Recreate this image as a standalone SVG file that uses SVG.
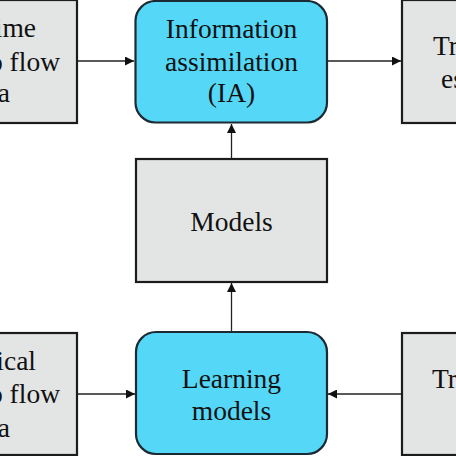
<svg xmlns="http://www.w3.org/2000/svg" width="456" height="456" viewBox="0 0 456 456">
<defs>
<style>
.gray{fill:#e3e5e4;stroke:#1c1c1c;stroke-width:2.2}
.cyan{fill:#55d8f8;stroke:#1c2a33;stroke-width:2.2}
.t{font-family:"Liberation Serif","Times New Roman",serif;font-size:27.5px;fill:#111}
.c{text-anchor:middle}
.e{text-anchor:end}
.conn{stroke:#222;stroke-width:1.3;fill:none}
</style>
<marker id="ah" viewBox="0 0 10 10" refX="10" refY="5" markerWidth="9" markerHeight="9" markerUnits="userSpaceOnUse" orient="auto">
<path d="M0,0 L10,5 L0,10 z" fill="#111"/>
</marker>
</defs>
<rect width="456" height="456" fill="#ffffff"/>
<g id="realtime">
<rect class="gray" x="-120" y="0" width="197" height="123"/>
<text class="t e" x="36" y="37">Real-time</text>
<text class="t e" x="60" y="71">hydro flow</text>
<text class="t e" x="10" y="102">data</text>
</g>
<g id="ia">
<rect class="cyan" x="135.5" y="1" width="191.5" height="121.5" rx="20" ry="20"/>
<text class="t c" x="231.5" y="38">Information</text>
<text class="t c" x="231.5" y="71">assimilation</text>
<text class="t c" x="231.5" y="102">(IA)</text>
</g>
<g id="traffic">
<rect class="gray" x="402" y="0" width="197" height="123"/>
<text class="t" x="433" y="55">Traffic</text>
<text class="t" x="441" y="88">estimation</text>
</g>
<g id="models">
<rect class="gray" x="136" y="159" width="191" height="123"/>
<text class="t c" x="231.5" y="231">Models</text>
</g>
<g id="historical">
<rect class="gray" x="-120" y="333" width="197" height="122"/>
<text class="t e" x="36" y="370">Historical</text>
<text class="t e" x="60" y="403">hydro flow</text>
<text class="t e" x="10" y="437">data</text>
</g>
<g id="learning">
<rect class="cyan" x="136" y="332" width="191" height="122" rx="20" ry="20"/>
<text class="t c" x="231.5" y="388">Learning</text>
<text class="t c" x="231.5" y="420">models</text>
</g>
<g id="training">
<rect class="gray" x="402" y="333" width="197" height="122"/>
<text class="t" x="432" y="388">Training</text>
</g>
<g id="connectors">
<line class="conn" x1="78" y1="61" x2="134" y2="61" marker-end="url(#ah)"/>
<line class="conn" x1="328" y1="61" x2="401" y2="61" marker-end="url(#ah)"/>
<line class="conn" x1="231.5" y1="158" x2="231.5" y2="124" marker-end="url(#ah)"/>
<line class="conn" x1="231.5" y1="331" x2="231.5" y2="283" marker-end="url(#ah)"/>
<line class="conn" x1="78" y1="394" x2="135" y2="394" marker-end="url(#ah)"/>
<line class="conn" x1="401" y1="394" x2="328" y2="394" marker-end="url(#ah)"/>
</g>
</svg>
